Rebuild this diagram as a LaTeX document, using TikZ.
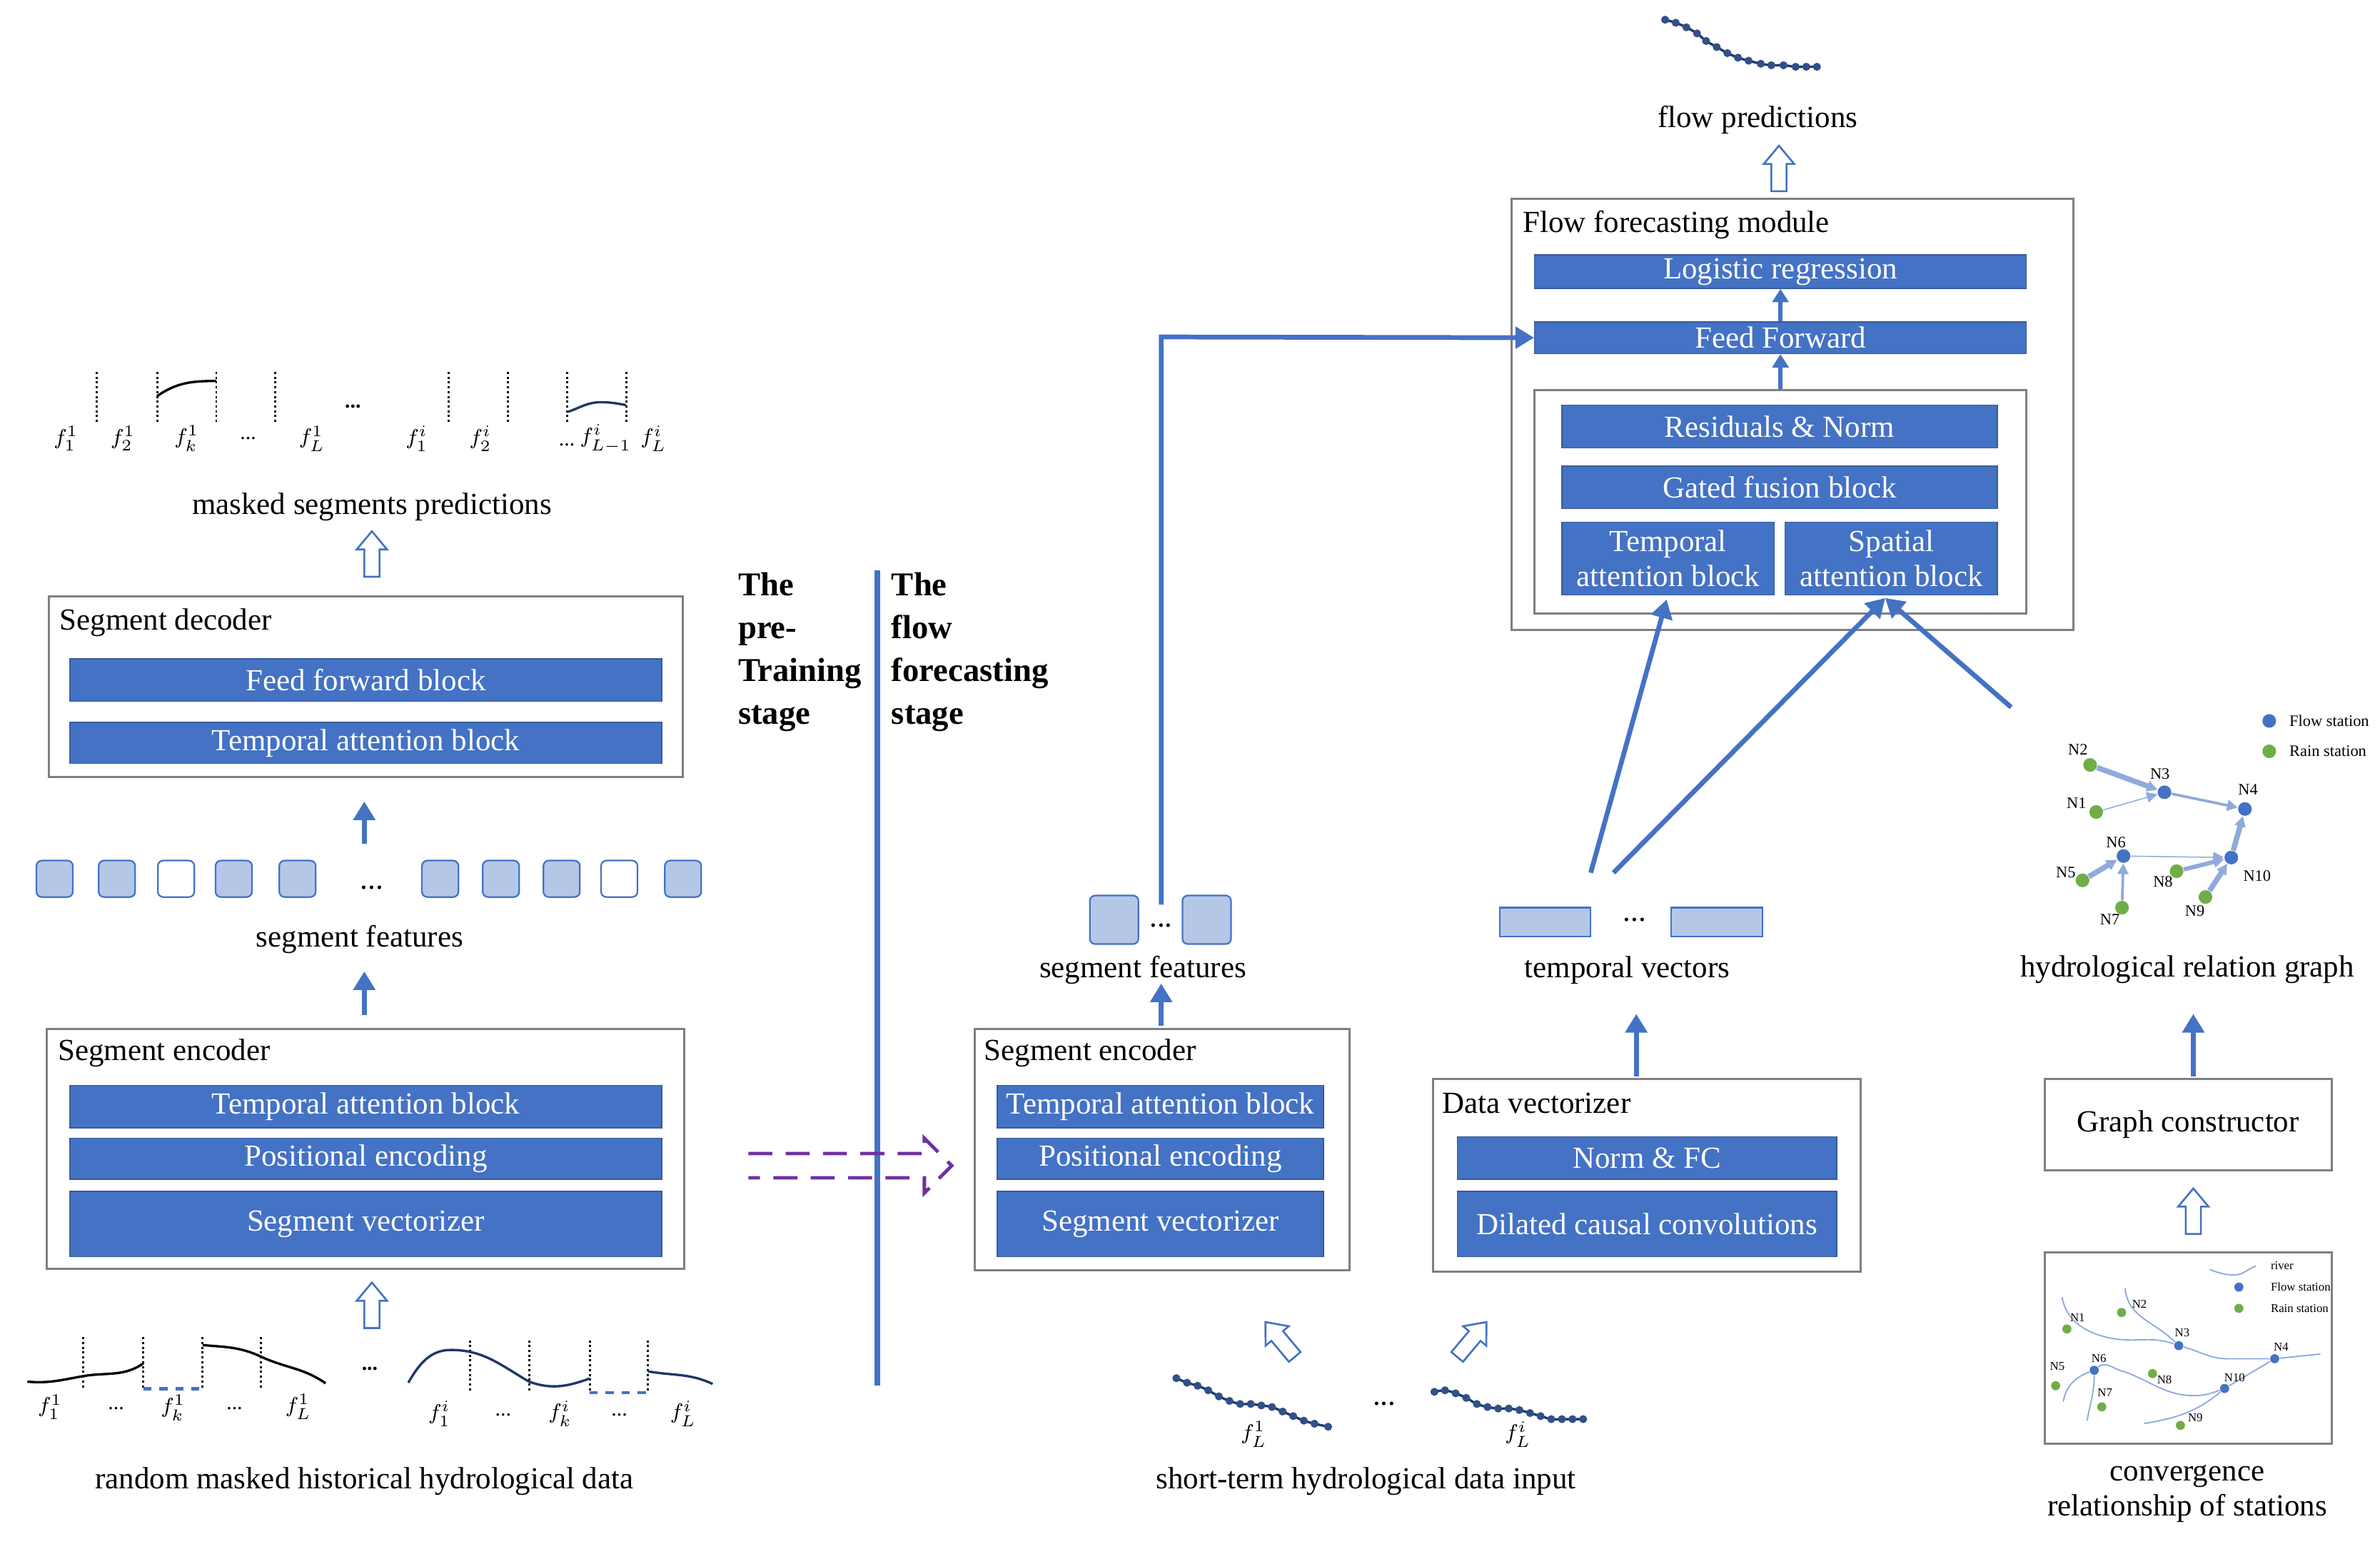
\documentclass[tikz,border=0pt]{standalone}
\usepackage{fontspec}
\setmainfont{Liberation Serif}
\usetikzlibrary{arrows.meta}
\definecolor{bl}{HTML}{4472C4}
\definecolor{lb}{HTML}{B4C7E7}
\definecolor{gb}{HTML}{8FAADC}
\definecolor{gn}{HTML}{70AD47}
\definecolor{vi}{HTML}{7030A0}
\definecolor{ser}{HTML}{1F3864}
\definecolor{gr}{HTML}{7F7F7F}
\newcommand\mybar[6]{\node[bar, minimum width={(#4-#2)*0.02cm}, minimum height={(#5-#3)*0.02cm}] (#1) at ({(#2+#4)/2},{(#3+#5)/2}) {#6};}
\newcommand\mybox[5]{\node[gbox, minimum width={(#4-#2)*0.02cm}, minimum height={(#5-#3)*0.02cm}] (#1) at ({(#2+#4)/2},{(#3+#5)/2}) {};}
\tikzset{
  bar/.style={fill=bl, draw=bl!80!black, line width=0.4pt, text=white, inner sep=0pt, align=center, font=\fontsize{11.5}{13}\selectfont},
  gbox/.style={draw=gr, line width=0.8pt, inner sep=0pt},
  lbl/.style={inner sep=0pt, font=\fontsize{11.5}{13}\selectfont},
  ttl/.style={lbl, anchor=west},
  stage/.style={inner sep=0pt, anchor=north west, align=left, font=\bfseries\fontsize{12.5}{16}\selectfont},
  sq/.style={draw=bl, fill=lb, rounded corners=2pt, minimum size=0.48cm, inner sep=0pt, line width=0.6pt},
  sqw/.style={sq, fill=white},
  sar/.style={draw=bl, line width=1.8pt, -{Triangle[length=7pt,width=8pt]}},
  hollow/.pic={\draw[bl, line width=0.7pt, fill=white] (-5,0) -- (-5,-18) -- (-10,-18) -- (0,-30) -- (10,-18) -- (5,-18) -- (5,0) -- cycle;},
  fl/.style={inner sep=0pt, font=\fontsize{8}{8.5}\selectfont},
  dotl/.style={densely dotted, line width=0.8pt},
  crv/.style={line width=0.9pt, ser},
  gnode/.style={circle, inner sep=0pt, minimum size=0.18cm},
  fnode/.style={gnode, fill=bl},
  rnode/.style={gnode, fill=gn},
  gl/.style={inner sep=0pt, font=\fontsize{6}{7}\selectfont},
  ga/.style={draw=gb, -{Triangle[length=4pt,width=4pt]}},
  cnode/.style={circle, inner sep=0pt, minimum size=0.12cm},
  cl/.style={inner sep=0pt, font=\fontsize{4.5}{5}\selectfont},
  riv/.style={draw=gb, line width=0.5pt},
  ts/.style={draw=ser, line width=0.9pt},
  tsd/.style={circle, fill=bl!70!black, inner sep=0pt, minimum size=3pt}
}
\begin{document}
\begin{tikzpicture}[x=0.02cm, y=-0.02cm]
\useasboundingbox (0,0) rectangle (1568,1017);

% ================= LEFT: pre-training =================
\foreach \x in {63.9,103.5,142.5,181.5,295.5,334.5,373.5,412.5} \draw[dotl] (\x,245) -- (\x,279);
\draw[crv, black] (103.5,261) to[out=35,in=180] (142.5,251);
\draw[crv] (374.4,271.3) to[out=20,in=180] (396,265) to[out=0,in=170] (412.5,266.9);
\node[fl] at (232.5,268) {\textbf{...}};
\node[fl] (p1) at (43.5,289) {$f_1^1$};
\node[fl] at (81,289) {$f_2^1$};
\node[fl] at (123,289) {$f_k^1$};
\node[fl] at (163.5,289) {...};
\node[fl] at (205.5,289) {$f_L^1$};
\node[fl] at (274.5,289) {$f_1^i$};
\node[fl] at (316.5,289) {$f_2^i$};
\node[fl] at (373.5,293) {...};
\node[fl] at (399,289) {$f_{L-1}^i$};
\node[fl] at (430.5,289) {$f_L^i$};
\node[lbl] (mspl) at (245,334) {masked segments predictions};
\pic at (245,380) {hollow};

\mybox{dec}{32}{393}{450}{512}
\node[ttl] at (39,410) {Segment decoder};
\mybar{ffb}{46}{434}{436}{462}{Feed forward block}
\mybar{tab1}{46}{476}{436}{503}{Temporal attention block}
\coordinate (a1s) at (240,556); \coordinate (a1e) at (240,528);
\draw[sar] (a1s) -- (a1e);

\foreach \x in {36,77,154,196,290,330,370,450} \node[sq] at (\x,579) {};
\node[sqw] at (116,579) {};
\node[sqw] at (408,579) {};
\node[lbl] at (245,585) {...};
\node[lbl] (sf1) at (237,619) {segment features};
\coordinate (a2s) at (240,669); \coordinate (a2e) at (240,640);
\draw[sar] (a2s) -- (a2e);

\mybox{enc1}{31}{678}{451}{836}
\node[ttl] at (38,694) {Segment encoder};
\mybar{tab2}{46}{715}{436}{743}{Temporal attention block}
\mybar{pe1}{46}{750}{436}{777}{Positional encoding}
\mybar{sv1}{46}{785}{436}{828}{Segment vectorizer}
\pic at (245,875) {hollow};

\foreach \x in {54.6,94.5,133.5,171.9} \draw[dotl] (\x,881) -- (\x,915);
\foreach \x in {309.9,348.6,388.5,426.9} \draw[dotl] (\x,883) -- (\x,917);
\draw[crv, black] (18,910.3) to[out=-5,in=190] (54.6,906.7) to[out=10,in=215] (94.5,898.2);
\draw[bl, dashed, line width=1.2pt] (94.5,915) -- (133.5,915);
\draw[crv, black] (133.5,886.2) to[out=-5,in=155] (171.9,893.8) to[out=-25,in=145] (214.5,911.4);
\node[fl] at (243.6,902) {\textbf{...}};
\draw[crv] (269,911) to[out=60,in=180] (297,889.4) to[out=0,in=150] (348.6,910.3) to[out=-20,in=200] (388.5,908.2);
\draw[bl, dashed, line width=1.2pt] (388.5,917.6) -- (426.9,917.6);
\draw[crv] (426.9,903.5) to[out=-10,in=155] (469.5,911.8);
\node[fl] at (33,927) {$f_1^1$};
\node[fl] at (76.5,928) {...};
\node[fl] at (114,927.5) {$f_k^1$};
\node[fl] at (154.5,928) {...};
\node[fl] at (196.5,927) {$f_L^1$};
\node[fl] at (289.5,931.5) {$f_1^i$};
\node[fl] at (331.5,932) {...};
\node[fl] at (369,931.5) {$f_k^i$};
\node[fl] at (408,932) {...};
\node[fl] at (450,931.5) {$f_L^i$};
\node[lbl] at (240,976) {random masked historical hydrological data};

% ================= stage divider =================
\node[stage] at (486,377) {The\\pre-\\Training\\stage};
\node[stage] at (587,377) {The\\flow\\forecasting\\stage};
\coordinate (divt) at (578,376); \coordinate (divb) at (578,913);
\draw[bl, line width=2pt] (divt) -- (divb);
\draw[vi, dashed, dash pattern=on 9pt off 5pt, line width=1.3pt] (493,760) -- (609,760) -- (609,750) -- (627,768) -- (609,786) -- (609,776) -- (493,776);

% ================= MIDDLE =================
\mybox{enc2}{642}{678}{889}{837}
\node[ttl] at (648,694) {Segment encoder};
\mybar{tab3}{657}{715}{872}{743}{Temporal attention block}
\mybar{pe2}{657}{750}{872}{777}{Positional encoding}
\mybar{sv2}{657}{785}{872}{828}{Segment vectorizer}
\node[sq, minimum size=0.64cm] (sq1) at (734,606) {};
\node[sq, minimum size=0.64cm] (sq2) at (795,606) {};
\node[lbl] at (765,610) {...};
\node[lbl] at (753,639) {segment features};
\coordinate (a3s) at (765,676); \coordinate (a3e) at (765,648);
\draw[sar] (a3s) -- (a3e);

\pic[rotate=40] at (853,894) {hollow};
\pic[rotate=-40] at (960,894) {hollow};

\draw[ts] plot[smooth] coordinates {(775,908) (782,911) (789,913) (796,916) (803,920) (810,923) (817,925) (824,925) (831,926) (838,927) (845,930) (852,933) (859,936) (866,938) (875,940)};
\foreach \p in {(775,908),(782,911),(789,913),(796,916),(803,920),(810,923),(817,925),(824,925),(831,926),(838,927),(845,930),(852,933),(859,936),(866,938),(875,940)} \node[tsd] at \p {};
\draw[ts] plot[smooth] coordinates {(945,917) (952,916) (959,918) (966,921) (973,925) (980,927) (987,928) (994,928) (1001,929) (1008,931) (1015,933) (1022,935) (1029,935) (1036,935) (1043,935)};
\foreach \p in {(945,917),(952,916),(959,918),(966,921),(973,925),(980,927),(987,928),(994,928),(1001,929),(1008,931),(1015,933),(1022,935),(1029,935),(1036,935),(1043,935)} \node[tsd] at \p {};
\node[fl] at (826,945) {$f_L^1$};
\node[fl] at (1000,945) {$f_L^i$};
\node[lbl] at (912,925) {...};
\node[lbl] at (900,976) {short-term hydrological data input};

\mybox{dv}{944}{711}{1226}{838}
\node[ttl] at (950,727) {Data vectorizer};
\mybar{nfc}{960}{749}{1210}{777}{Norm \& FC}
\mybar{dcc}{960}{785}{1210}{828}{Dilated causal convolutions}
\coordinate (a4s) at (1078,709); \coordinate (a4e) at (1078,668);
\draw[sar] (a4s) -- (a4e);
\node[draw=bl, fill=lb, minimum width=1.2cm, minimum height=0.38cm, inner sep=0pt, line width=0.6pt] (tv1) at (1018,607.5) {};
\node[draw=bl, fill=lb, minimum width=1.2cm, minimum height=0.38cm, inner sep=0pt, line width=0.6pt] (tv2) at (1131,607.5) {};
\node[lbl] at (1077,606) {...};
\node[lbl] at (1072,639) {temporal vectors};

% ================= flow forecasting module =================
\mybox{ffm}{996}{131}{1366}{415}
\node[ttl] at (1003,148) {Flow forecasting module};
\mybar{lr}{1011}{168}{1335}{190}{Logistic regression}
\mybar{ff}{1011}{212}{1335}{233}{Feed Forward}
\mybox{inner}{1011}{257}{1335}{404}
\mybar{rn}{1029}{267}{1316}{295}{Residuals \& Norm}
\mybar{gf}{1029}{307}{1316}{335}{Gated fusion block}
\mybar{tab4}{1029}{344}{1169}{392}{Temporal\\attention block}
\mybar{sab}{1176}{344}{1316}{392}{Spatial\\attention block}
\draw[draw=bl, line width=1.6pt, -{Triangle[length=5pt,width=6pt]}] (ff.north) -- (lr.south);
\draw[draw=bl, line width=1.6pt, -{Triangle[length=5pt,width=6pt]}] (inner.north) -- (ff.south);
\pic at (1172,126) {hollow};
\node[lbl] at (1158,79) {flow predictions};
\draw[ts] plot[smooth] coordinates {(1097,13) (1104,15) (1111,18) (1118,22) (1124,27) (1131,31) (1138,35) (1145,38) (1152,40) (1160,42) (1167,43) (1175,43) (1183,44) (1190,44) (1197,44)};
\foreach \p in {(1097,13),(1104,15),(1111,18),(1118,22),(1124,27),(1131,31),(1138,35),(1145,38),(1152,40),(1160,42),(1167,43),(1175,43),(1183,44),(1190,44),(1197,44)} \node[tsd] at \p {};

\coordinate (sqt) at (765,596);
\coordinate (bend) at (765,222);
\draw[sar] (sqt) -- (bend) -- (ff.west);
\coordinate (tvA) at (1048,575); \coordinate (tvB) at (1063,575); \coordinate (grA) at (1325,466);
\coordinate (taE) at (1098,395); \coordinate (saE) at (1242,394);
\draw[sar] (tvA) -- (taE);
\draw[sar] (tvB) -- (saE);
\draw[sar] (grA) -- (saE);

% ================= hydrological relation graph =================
\node[fnode] at (1495,475) {}; \node[gl, anchor=west] at (1508,475) {Flow station};
\node[rnode] at (1495,495) {}; \node[gl, anchor=west] at (1508,495) {Rain station};
\node[rnode] (g2) at (1377,504) {};
\node[fnode] (g3) at (1426,522) {};
\node[rnode] (g1) at (1381,535) {};
\node[fnode] (g4) at (1479,533) {};
\node[fnode] (g6) at (1399,564) {};
\node[fnode] (g10) at (1470,565) {};
\node[rnode] (g5) at (1372,580) {};
\node[rnode] (g8) at (1434,574) {};
\node[rnode] (g9) at (1453,591) {};
\node[rnode] (g7) at (1398,598) {};
\node[gl] at (1369,494) {N2}; \node[gl] at (1423,510) {N3}; \node[gl] at (1368,529) {N1};
\node[gl] at (1481,520) {N4}; \node[gl] at (1394,555) {N6}; \node[gl] at (1361,575) {N5};
\node[gl] at (1425,581) {N8}; \node[gl] at (1487,577) {N10}; \node[gl] at (1446,600) {N9};
\node[gl] at (1390,606) {N7};
\draw[ga, line width=2pt] (g2) -- (g3);
\draw[ga, line width=0.4pt] (g1) -- (g3);
\draw[ga, line width=1pt] (g3) -- (g4);
\draw[ga, line width=2pt] (g10) -- (g4);
\draw[ga, line width=0.4pt] (g6) -- (g10);
\draw[ga, line width=2pt] (g5) -- (g6);
\draw[ga, line width=1pt] (g7) -- (g6);
\draw[ga, line width=1.6pt] (g8) -- (g10);
\draw[ga, line width=2pt] (g9) -- (g10);
\node[lbl] (hrg) at (1441,639) {hydrological relation graph};
\coordinate (a5s) at (1445,709); \coordinate (a5e) at (1445,668);
\draw[sar] (a5s) -- (a5e);
\mybox{gc}{1347}{711}{1536}{771}
\node[lbl] at (gc) {Graph constructor};
\pic at (1445,813) {hollow};

\mybox{cmap}{1347}{825}{1536}{951}
\draw[riv] (1455.7,836.4) to[out=-20,in=180] (1472,840) to[out=0,in=200] (1486.3,834);
\node[cl, anchor=west] at (1495.7,834) {river};
\node[cnode, fill=bl] at (1475,848) {}; \node[cl, anchor=west] at (1495.7,848) {Flow station};
\node[cnode, fill=gn] at (1475,862) {}; \node[cl, anchor=west] at (1495.7,862) {Rain station};
\node[cnode, fill=gn] (c1) at (1361.7,875.6) {};
\node[cnode, fill=gn] (c2) at (1397.7,864.7) {};
\node[cnode, fill=bl] (c3) at (1435.4,886.6) {};
\node[cnode, fill=bl] (c4) at (1498.6,895.2) {};
\node[cnode, fill=gn] (c5) at (1354.3,913) {};
\node[cnode, fill=bl] (c6) at (1379.7,902.8) {};
\node[cnode, fill=gn] (c7) at (1384.7,926.9) {};
\node[cnode, fill=gn] (c8) at (1418.1,905) {};
\node[cnode, fill=gn] (c9) at (1436.5,939.1) {};
\node[cnode, fill=bl] (c10) at (1465.6,914.8) {};
\draw[riv] (1358.5,854.5) to[out=-80,in=170] (1392.2,881.9) to[out=-10,in=160] (c3);
\draw[riv] (1400.1,849) to[out=-85,in=135] (c3);
\draw[riv] (c3) to[out=-15,in=180] (1467.5,895.2) -- (c4);
\draw[riv] (c4) -- (1528.7,892.1);
\draw[riv] (1359.3,923.5) to[out=80,in=200] (c6);
\draw[riv] (1375,936) to[out=80,in=-90] (c6);
\draw[riv] (c6) to[out=40,in=170] (1400,903.9) to[out=-20,in=180] (1445.5,919.5) to[out=0,in=200] (c10);
\draw[riv] (1412.6,937.9) to[out=10,in=220] (c10);
\draw[riv] (c10) -- (c4);
\node[cl] at (1368.7,868.3) {N1}; \node[cl] at (1409.5,859.2) {N2}; \node[cl] at (1437.7,878) {N3};
\node[cl] at (1502.8,887.4) {N4}; \node[cl] at (1355.4,900) {N5}; \node[cl] at (1382.8,894.9) {N6};
\node[cl] at (1386.8,917.6) {N7}; \node[cl] at (1426,909) {N8}; \node[cl] at (1446.3,934.1) {N9};
\node[cl] at (1472.2,907.8) {N10};
\node[lbl, align=center] at (1441,984) {convergence\\relationship of stations};
\end{tikzpicture}
\end{document}
